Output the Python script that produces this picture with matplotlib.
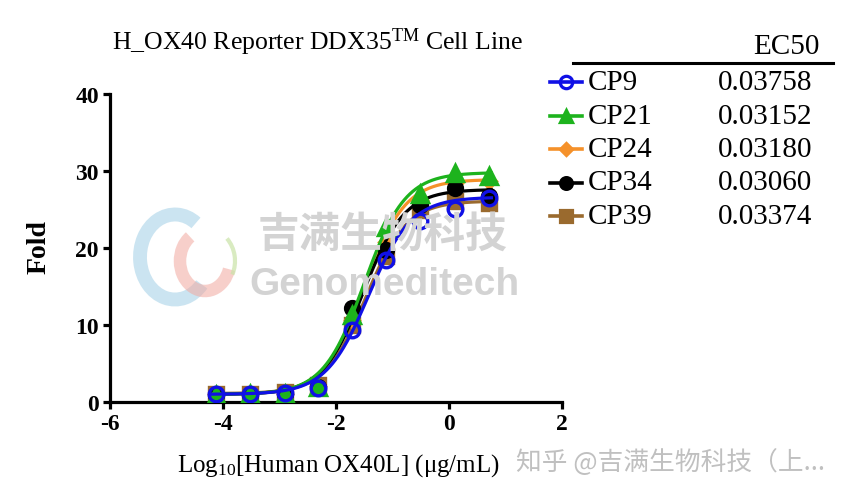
import numpy as np
import matplotlib
matplotlib.use("Agg")
import matplotlib.pyplot as plt
from matplotlib.lines import Line2D
from matplotlib.patches import Arc

plt.rcParams['font.family'] = ['Liberation Serif', 'DejaVu Serif']
plt.rcParams['mathtext.fontset'] = 'custom'
plt.rcParams['mathtext.rm'] = 'Liberation Serif'
plt.rcParams['mathtext.it'] = 'Liberation Serif:italic'
plt.rcParams['mathtext.bf'] = 'Liberation Serif:bold'
plt.rcParams['axes.unicode_minus'] = False

# ---- data ----
log_conc = [-4.12, -3.52, -2.91, -2.31, -1.71, -1.11, -0.51, 0.10, 0.70]
series = ["CP9", "CP21", "CP24", "CP34", "CP39"]
ec50 = [0.03758, 0.03152, 0.03180, 0.03060, 0.03374]
fold_cp9 = [1.0, 1.0, 1.2, 1.8, 9.3, 18.4, 23.5, 25.1, 26.5]
fold_cp21 = [0.9, 1.0, 1.1, 2.0, 11.3, 22.7, 27.0, 29.7, 29.4]
fold_cp24 = [1.0, 1.0, 1.0, 2.1, 10.6, 20.8, 26.2, 28.4, 28.7]
fold_cp34 = [0.9, 0.9, 1.0, 1.9, 12.2, 19.8, 25.6, 27.8, 26.8]
fold_cp39 = [1.1, 1.1, 1.3, 2.2, 10.0, 19.0, 25.0, 26.1, 25.9]
# 4PL fit parameters
fit_bottom = [1.0, 1.0, 1.0, 1.0, 1.1]
fit_top = [26.6, 29.8, 28.9, 27.6, 26.1]
fit_hill = [1.15, 1.2, 1.2, 1.2, 1.2]

folds = [fold_cp9, fold_cp21, fold_cp24, fold_cp34, fold_cp39]
colors = ["#1010e6", "#1db31d", "#f5912a", "#000000", "#9a6a2e"]
markers = ["o", "^", "D", "o", "s"]
msizes = [10.5, 11, 7, 10, 9.5]
mfcs = ["none", "#1db31d", "#f5912a", "#000000", "#9a6a2e"]
zorders = [10, 9, 7, 8, 6]

W, H = 849, 502
fig = plt.figure(figsize=(W / 100, H / 100), dpi=100)
ax = fig.add_axes([110 / W, 1 - 403 / H, (562 - 110) / W, (403 - 95) / H])

# watermark
fig.text(382 / W, 1 - 235 / H, "吉满生物科技", fontsize=30, fontweight='bold',
         color='#d3d3d3', ha='center', va='center', family=['Noto Sans CJK SC'], zorder=0)
fig.text(384 / W, 1 - 285 / H, "Genomeditech", fontsize=28, fontweight='bold',
         color='#d3d3d3', ha='center', va='center', family=['Liberation Sans'], zorder=0)
fig.patches.append(Arc((175 / W, 1 - 258 / H), 70 / W, 85 / H, theta1=70, theta2=300,
                       lw=10, color='#a9d3e8', alpha=0.6, transform=fig.transFigure))
fig.patches.append(Arc((205 / W, 1 - 262 / H), 50 / W, 60 / H, theta1=110, theta2=330,
                       lw=9, color='#f2a9a0', alpha=0.55, transform=fig.transFigure))
fig.patches.append(Arc((205 / W, 1 - 262 / H), 60 / W, 66 / H, theta1=-40, theta2=60,
                       lw=3, color='#c9e3a7', alpha=0.7, transform=fig.transFigure))
ax.patch.set_alpha(0)

xs = np.linspace(-4.2, 0.75, 300)
for i, name in enumerate(series):
    lec = np.log10(ec50[i])
    curve = fit_bottom[i] + (fit_top[i] - fit_bottom[i]) / (1 + 10 ** ((lec - xs) * fit_hill[i]))
    ax.plot(xs, curve, color=colors[i], lw=2.3, zorder=zorders[i])
    ax.plot(log_conc, folds[i], linestyle='none', marker=markers[i], ms=msizes[i],
            mfc=mfcs[i], mec=colors[i], mew=2.4, zorder=zorders[i])

ax.set_xlim(-6, 2)
ax.set_ylim(0, 40)
ax.set_xticks([-6, -4, -2, 0, 2])
ax.set_yticks([0, 10, 20, 30, 40])
for s in ['top', 'right']:
    ax.spines[s].set_visible(False)
for s in ['left', 'bottom']:
    ax.spines[s].set_linewidth(2.3)
ax.tick_params(width=2.3, length=5, labelsize=17, pad=3)
for lab in ax.get_xticklabels() + ax.get_yticklabels():
    lab.set_fontweight('bold')

fig.text(39 / W, 1 - 247 / H, "Fold", rotation=90, fontsize=20, fontweight='bold',
         ha='center', va='center')
fig.text(338 / W, 1 - 466 / H, "Log$_{10}$[Human OX40L] (\u03bcg/mL)", fontsize=18,
         ha='center', va='center')
fig.text(317 / W, 1 - 42 / H, "H_OX40 Reporter DDX35$^{\\mathrm{TM}}$ Cell Line", fontsize=18.5,
         ha='center', va='center')

# legend table
fig.text(820 / W, 1 - 47 / H, "EC50", fontsize=21, ha='right', va='center')
fig.add_artist(Line2D([573 / W, 833 / W], [1 - 63.5 / H, 1 - 63.5 / H], lw=2.2, color='black',
                      transform=fig.transFigure))
row_y = [83, 117, 150, 183.5, 217]
for i, name in enumerate(series):
    yy = 1 - row_y[i] / H
    fig.add_artist(Line2D([550 / W, 582 / W], [yy, yy], lw=2.6, color=colors[i],
                          transform=fig.transFigure))
    fig.add_artist(Line2D([566 / W], [yy], marker=markers[i], ms=msizes[i] * 0.85,
                          mfc=mfcs[i], mec=colors[i], mew=2.3, linestyle='none',
                          transform=fig.transFigure))
    fig.text(588 / W, yy, name, fontsize=21, ha='left', va='center')
    fig.text(812 / W, yy, f"{ec50[i]:.5f}", fontsize=21, ha='right', va='center')

fig.text(825 / W, 1 - 463 / H, "知乎 @吉满生物科技（上...", fontsize=18.5, color='#c0c0c0',
         ha='right', va='center', family=['Noto Sans CJK SC', 'DejaVu Sans'])

fig.savefig("out.png", dpi=100)
